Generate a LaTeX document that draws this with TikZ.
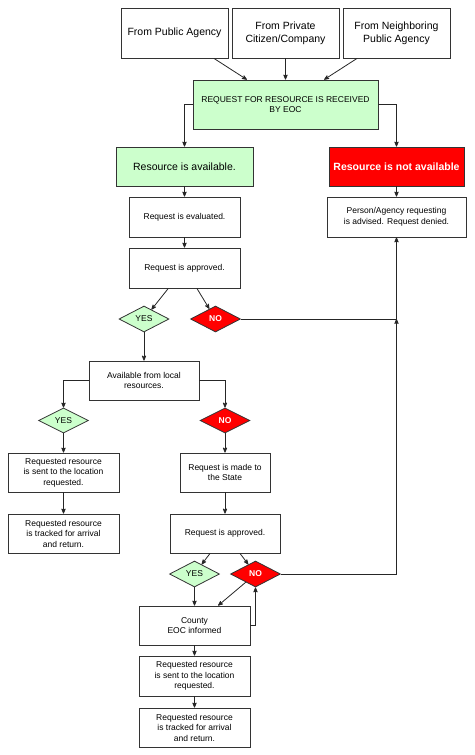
\documentclass[tikz,border=0pt]{standalone}
\usepackage{fontspec}
\setmainfont{Liberation Sans}
\usetikzlibrary{arrows, shapes.geometric}
\definecolor{okgreen}{HTML}{CCFFCC}
\definecolor{nored}{HTML}{FF0000}
\newcommand{\boxfont}{\fontsize{8.5}{10.5}\selectfont}
\newcommand{\topfont}{\fontsize{10.5}{13.3}\selectfont}

\begin{document}
\begin{tikzpicture}[>=stealth',x=1pt,y=-1pt,line width=0.8pt,
      main node/.style={rectangle,draw=black!80,fill=white,align=center,inner sep=0pt,
        minimum width=111pt,minimum height=39pt,font=\boxfont},
      top node/.style={main node,minimum width=107pt,minimum height=50pt,font=\topfont},
      yes node/.style={diamond,draw=black!80,fill=okgreen,inner sep=0pt,
        minimum width=50pt,minimum height=26pt,font=\boxfont},
      no node/.style={yes node,fill=nored,text=white,font=\boxfont\bfseries}]
  \useasboundingbox (0,0) rectangle (474,755);
  % sources of a request
  \node[top node] (1) at (174.5,33) {From Public Agency};
  \node[top node] (2) at (285.5,33) {From Private\\Citizen/Company};
  \node[top node] (3) at (396.5,33) {From Neighboring\\Public Agency};
  \node[main node,fill=okgreen,minimum width=185pt,minimum height=49pt] (4) at (285.5,104.5)
    {REQUEST FOR RESOURCE IS RECEIVED\\BY EOC};
  \node[main node,fill=okgreen,minimum width=137pt,font=\topfont] (5) at (184.5,166.5) {Resource is available.};
  \node[main node,fill=nored,text=white,minimum width=135pt,font=\topfont\bfseries] (6) at (396.5,166.5)
    {Resource is not available};
  \node[main node,minimum height=40pt] (7) at (184.5,217) {Request is evaluated.};
  \node[main node,minimum width=139pt,minimum height=40pt] (8) at (396.5,217)
    {Person/Agency requesting\\is advised. Request denied.};
  \node[main node,minimum height=40pt] (9) at (184.5,268) {Request is approved.};
  \node[yes node] (10) at (144,319) {YES};
  \node[no node] (11) at (215.5,319) {NO};
  % local resources
  \node[main node,minimum width=110pt] (12) at (144,380.5) {Available from local\\resources.};
  \node[yes node,minimum height=25pt] (13) at (63.5,420.5) {YES};
  \node[no node,minimum height=25pt] (14) at (225,420.5) {NO};
  \node[main node] (15) at (63.5,472.5) {Requested resource\\is sent to the location\\requested.};
  \node[main node] (16) at (63.5,533.5) {Requested resource\\is tracked for arrival\\and return.};
  % state
  \node[main node,minimum width=90pt] (17) at (225,472.5) {Request is made to\\the State};
  \node[main node,minimum width=110pt] (18) at (225,533.5) {Request is approved.};
  \node[yes node] (19) at (194.5,574) {YES};
  \node[no node] (20) at (255.5,574) {NO};
  \node[main node] (21) at (194.5,625.5) {County\\EOC informed};
  \node[main node,minimum height=40pt] (22) at (194.5,676) {Requested resource\\is sent to the location\\requested.};
  \node[main node] (23) at (194.5,727.5) {Requested resource\\is tracked for arrival\\and return.};
  \coordinate (j) at (8.south |- 11.east);
\path[->,every edge/.style={draw=black!85}]
    (1) edge (4) (2) edge (4) (3) edge (4)
    (5) edge (7) (6) edge (8) (7) edge (9)
    (9) edge (10) (9) edge (11) (10) edge (12)
    (13) edge (15) (15) edge (16) (14) edge (17) (17) edge (18)
    (18) edge (19) (18) edge (20) (19) edge (21) (20) edge (21)
    (21) edge (22) (22) edge (23);
\draw[->,black!85] (4.west) -| (5.north);
\draw[->,black!85] (4.east) -| (6.north);
\draw[->,black!85] (11.east) -| (8.south);
\draw[->,black!85] (20.east) -| (j);
\draw[->,black!85] (12.west) -| (13.north);
\draw[->,black!85] (12.east) -| (14.north);
\draw[->,black!85] (21.east) -| (20.south);
\end{tikzpicture}
\end{document}
